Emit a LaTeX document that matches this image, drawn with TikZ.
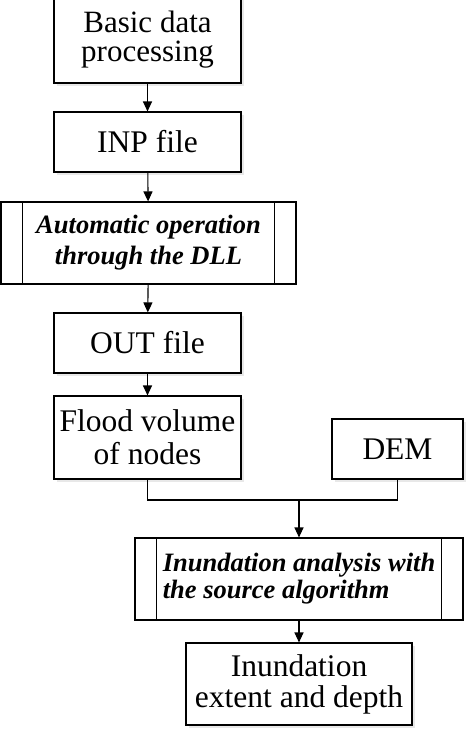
\documentclass[tikz,border=0pt]{standalone}
\usepackage{fontspec}
\setmainfont{Liberation Serif}
\usetikzlibrary{arrows.meta,shadows}
\begin{document}
\begin{tikzpicture}[x=1pt,y=-1pt,
  box/.style={draw,line width=1.1pt,fill=white,align=center,inner sep=0pt,
    drop shadow={shadow xshift=3pt,shadow yshift=-3pt,opacity=0.18}},
  procbox/.style={draw,line width=1.1pt,fill=white,inner sep=0pt},
  arr/.style={line width=1.1pt,-{Triangle[length=10pt,width=9pt]}},
  conn/.style={line width=1.1pt}]
\useasboundingbox (0,0) rectangle (474,739);
\node[box,minimum width=187pt,minimum height=86pt,font=\fontsize{31}{29}\selectfont] (basic) at (147.5,40) {Basic data\\processing};
\node[box,minimum width=187pt,minimum height=60pt,font=\fontsize{31.5}{30}\selectfont] (inp) at (147.5,142) {INP file};
\node[procbox,minimum width=295pt,minimum height=82pt,align=center,font=\fontsize{26.5}{31}\selectfont\bfseries\itshape] (auto) at (148.5,243) {Automatic operation\\through the DLL};
\draw[conn] ([xshift=22pt]auto.north west) -- ([xshift=22pt]auto.south west);
\draw[conn] ([xshift=-22pt]auto.north east) -- ([xshift=-22pt]auto.south east);
\node[box,minimum width=187pt,minimum height=60pt,font=\fontsize{31.5}{30}\selectfont] (out) at (147.5,343) {OUT file};
\node[box,minimum width=187pt,minimum height=83pt,font=\fontsize{31.5}{33}\selectfont] (flood) at (147.5,437.5) {Flood volume\\of nodes};
\node[box,minimum width=131pt,minimum height=60pt,font=\fontsize{31.5}{30}\selectfont] (dem) at (397.5,449) {DEM};
\node[procbox,minimum width=328pt,minimum height=82pt,align=left,font=\fontsize{26.5}{27}\selectfont\bfseries\itshape] (inund) at (299,579) {Inundation analysis with\\the source algorithm};
\draw[conn] ([xshift=22pt]inund.north west) -- ([xshift=22pt]inund.south west);
\draw[conn] ([xshift=-22pt]inund.north east) -- ([xshift=-22pt]inund.south east);
\node[box,minimum width=226pt,minimum height=82pt,font=\fontsize{31.5}{31}\selectfont] (extent) at (299,684) {Inundation\\extent and depth};
\coordinate (j) at (299,500);
\draw[arr] (basic) -- (inp);
\draw[arr] (inp) -- (auto);
\draw[arr] (auto) -- (out);
\draw[arr] (out) -- (flood);
\draw[conn] (flood.south) |- (j) -| (dem.south);
\draw[arr] (j) -- (inund.north);
\draw[arr] (inund) -- (extent);
\end{tikzpicture}
\end{document}
